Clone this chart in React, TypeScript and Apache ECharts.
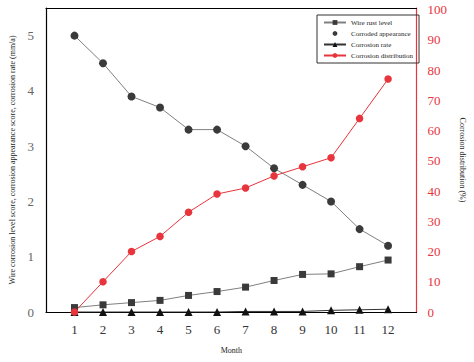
import React, { useEffect, useRef } from "react";
import * as echarts from "echarts";

const months = [1, 2, 3, 4, 5, 6, 7, 8, 9, 10, 11, 12];
const wireRustLevel = [0.08, 0.13, 0.17, 0.21, 0.3, 0.37, 0.45, 0.57, 0.68, 0.69, 0.82, 0.94];
const corrodedAppearance = [5.0, 4.5, 3.9, 3.7, 3.3, 3.3, 3.0, 2.6, 2.3, 2.0, 1.5, 1.2];
const corrosionRate = [0, 0, 0, 0, 0, 0, 0.01, 0.01, 0.01, 0.03, 0.04, 0.05];
const corrosionDistribution = [0, 10, 20, 25, 33, 39, 41, 45, 48, 51, 64, 77];

const FONT = "'Liberation Serif', 'DejaVu Serif', serif";
const RED = "#e8343c";
const DARK = "#3a3a3a";
const LINE = "#808080";

const pair = (vals: number[]) => months.map((m, i) => [m, vals[i]]);

export default function App() {
  const ref = useRef<HTMLDivElement>(null);
  useEffect(() => {
    if (!ref.current) return;
    const chart = echarts.init(ref.current, null, { renderer: "svg" });
    chart.setOption({
      animation: false,
      backgroundColor: "#ffffff",
      grid: { left: 44, right: 53, top: 8, bottom: 50 },
      legend: {
        orient: "vertical",
        left: 317,
        top: 15,
        width: 89,
        padding: [4, 6, 4, 6],
        itemGap: 4,
        itemWidth: 22,
        itemHeight: 6,
        borderColor: "#333",
        borderWidth: 1,
        textStyle: { fontFamily: FONT, fontSize: 7, color: "#222" },
        data: [
          { name: "Wire rust level" },
          { name: "Corroded appearance", lineStyle: { width: 0, opacity: 0 } },
          { name: "Corrosion rate" },
          { name: "Corrosion distribution" },
        ],
      },
      xAxis: [
        {
          type: "value",
          min: 0,
          max: 13,
          interval: 1,
          name: "Month",
          nameLocation: "middle",
          nameGap: 34,
          nameTextStyle: { fontFamily: FONT, fontSize: 8, color: "#222" },
          axisLine: { onZero: false, lineStyle: { color: "#000", width: 1.2 } },
          axisTick: { show: false },
          splitLine: { show: false },
          axisLabel: {
            fontFamily: FONT,
            fontSize: 13,
            color: "#333",
            margin: 11,
            formatter: (v: number) => (v >= 1 && v <= 12 ? String(v) : ""),
          },
        },
        {
          type: "value",
          position: "top",
          min: 0,
          max: 13,
          axisLine: { onZero: false, lineStyle: { color: "#000", width: 1.2 } },
          axisTick: { show: false },
          axisLabel: { show: false },
          splitLine: { show: false },
        },
      ],
      yAxis: [
        {
          type: "value",
          min: 0,
          max: 5.5,
          interval: 1,
          position: "left",
          name: "Wire corrosion level score, corrosion appearance score, corrosion rate (mm/a)",
          nameLocation: "middle",
          nameGap: 30,
          nameRotate: 90,
          nameTextStyle: { fontFamily: FONT, fontSize: 8, color: "#222" },
          axisLine: { show: true, onZero: false, lineStyle: { color: "#000", width: 1.2 } },
          axisTick: { show: false },
          splitLine: { show: false },
          axisLabel: {
            fontFamily: FONT,
            fontSize: 13,
            color: "#666",
            margin: 12,
            formatter: (v: number) => (Number.isInteger(v) ? String(v) : ""),
          },
        },
        {
          type: "value",
          min: 0,
          max: 100.5,
          interval: 10,
          position: "right",
          name: "Corrosion distribution (%)",
          nameLocation: "middle",
          nameGap: 35,
          nameRotate: -90,
          nameTextStyle: { fontFamily: FONT, fontSize: 8, color: "#222" },
          axisLine: { show: true, onZero: false, lineStyle: { color: RED, width: 1.2 } },
          axisTick: { show: false },
          splitLine: { show: false },
          axisLabel: {
            fontFamily: FONT,
            fontSize: 13,
            color: RED,
            margin: 11,
            formatter: (v: number) => (Number.isInteger(v) ? String(v) : ""),
          },
        },
      ],
      series: [
        {
          name: "Wire rust level",
          type: "line",
          yAxisIndex: 0,
          data: pair(wireRustLevel),
          symbol: "rect",
          symbolSize: 7,
          itemStyle: { color: DARK },
          lineStyle: { color: LINE, width: 1 },
        },
        {
          name: "Corroded appearance",
          type: "line",
          yAxisIndex: 0,
          data: pair(corrodedAppearance),
          symbol: "circle",
          symbolSize: 8,
          itemStyle: { color: DARK },
          lineStyle: { color: LINE, width: 1 },
        },
        {
          name: "Corrosion rate",
          type: "line",
          yAxisIndex: 0,
          data: pair(corrosionRate),
          symbol: "triangle",
          symbolSize: 8,
          itemStyle: { color: "#111" },
          lineStyle: { color: "#333", width: 1 },
        },
        {
          name: "Corrosion distribution",
          type: "line",
          yAxisIndex: 1,
          data: pair(corrosionDistribution),
          symbol: "circle",
          symbolSize: 7.5,
          itemStyle: { color: RED },
          lineStyle: { color: RED, width: 1 },
        },
      ],
    });
    return () => chart.dispose();
  }, []);
  return (
    <div
      ref={ref}
      style={{ position: "fixed", left: 0, top: 0, width: 474, height: 362, background: "#fff" }}
    />
  );
}
